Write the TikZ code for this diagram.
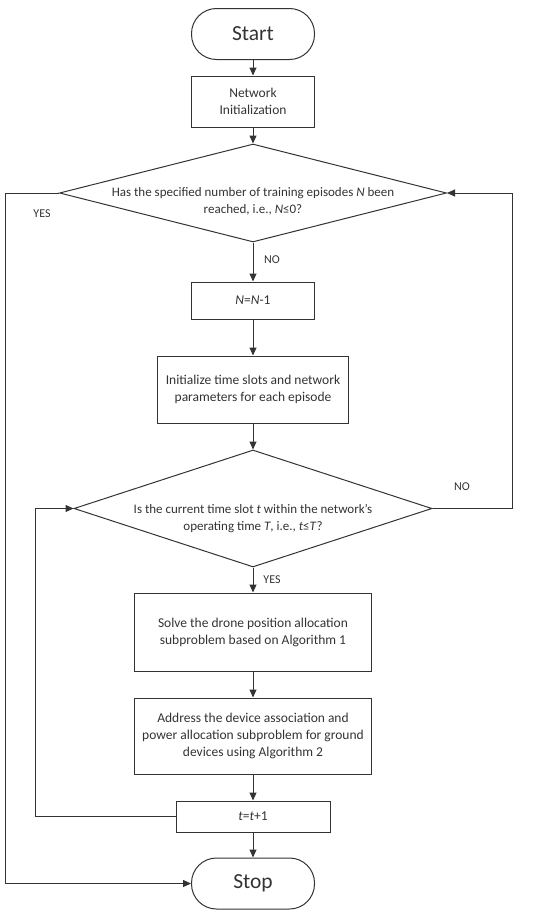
\documentclass[tikz,border=0pt]{standalone}
\usepackage{fontspec}
\setmainfont{Carlito}
\usepackage{tikz}
\usetikzlibrary{shapes.geometric, arrows.meta, positioning}
\usetikzlibrary{calc}

\begin{document}
\begin{tikzpicture}[x=1pt, y=-1pt, line width=1pt, color=black!80,
	>={Triangle[length=8pt,width=7pt]},
	term/.style={draw, rounded corners=25pt, minimum width=123pt, minimum height=51pt, inner sep=0pt, font=\fontsize{21.5}{24}\selectfont},
	proc/.style={draw, inner sep=0pt, align=center, font=\fontsize{13.5}{17}\selectfont},
	decis/.style={draw, diamond, inner sep=0pt},
	decistext/.style={align=center, font=\fontsize{13}{17}\selectfont},
	lbl/.style={font=\fontsize{12}{14}\selectfont}]
			\useasboundingbox (0,0) rectangle (550,918);
			
			\node[term] (start) at (253,34) {Start};
			\node[proc, minimum width=123pt, minimum height=51pt] (netinit) at (253,101.5) {Network\\Initialization};
			\node[decis, minimum width=387pt, minimum height=98pt] (epcheck) at (253,193) {};
			\node[decistext, yshift=-8pt] (epchecktext) at (epcheck) {Has the specified number of training episodes \textit{N} been\\reached, i.e., \textit{N}≤0?};
			\node[proc, minimum width=123pt, minimum height=37pt] (ndec) at (253,300.5) {\textit{N}=\textit{N}-1};
			\node[proc, minimum width=191pt, minimum height=67pt] (epinit) at (253,389.5) {Initialize time slots and network\\parameters for each episode};
			\node[decis, minimum width=358pt, minimum height=117pt] (tcheck) at (253,508.5) {};
			\node[decistext, yshift=-10pt] (tchecktext) at (tcheck) {Is the current time slot \textit{t} within the network's\\operating time \textit{T}, i.e., \textit{t}≤\textit{T}?};
			\node[proc, minimum width=237pt, minimum height=78pt] (dronepos) at (253,632) {Solve the drone position allocation\\subproblem based on Algorithm 1};
			\node[proc, minimum width=237pt, minimum height=76pt] (devassoc) at (253,736) {Address the device association and\\power allocation subproblem for ground\\devices using Algorithm 2};
			\node[proc, minimum width=154pt, minimum height=31pt] (tinc) at (253,816.5) {\textit{t}=\textit{t}+1};
			\node[term] (stop) at (253,883.5) {Stop};
			
			% loop corners
			\coordinate (yescorner) at (5,883.5);
			\coordinate (nocorner) at (512,193);
			\coordinate (loopcorner) at (35,508.5);
			
			\node[lbl] (yes1) at (42,214) {YES};
			\node[lbl] (no1) at (272,260) {NO};
			\node[lbl] (no2) at (462,487) {NO};
			\node[lbl] (yes2) at (272,580) {YES};
			
			\draw[->] (start) -- (netinit);
			\draw[->] (netinit) -- (epcheck);
			\draw[->] (epcheck) -- (ndec);
			\draw[->] (ndec) -- (epinit);
			\draw[->] (epinit) -- (tcheck);
			\draw[->] (tcheck) -- (dronepos);
			\draw[->] (dronepos) -- (devassoc);
			\draw[->] (devassoc) -- (tinc);
			\draw[->] (tinc) -- (stop);
			\draw[->] (epcheck.west) -| (yescorner) -- (stop.west);
			\draw[->] (tcheck.east) -| (nocorner) -- (epcheck.east);
			\draw[->] (tinc.west) -| (loopcorner) -- (tcheck.west);
		\end{tikzpicture}
\end{document}
